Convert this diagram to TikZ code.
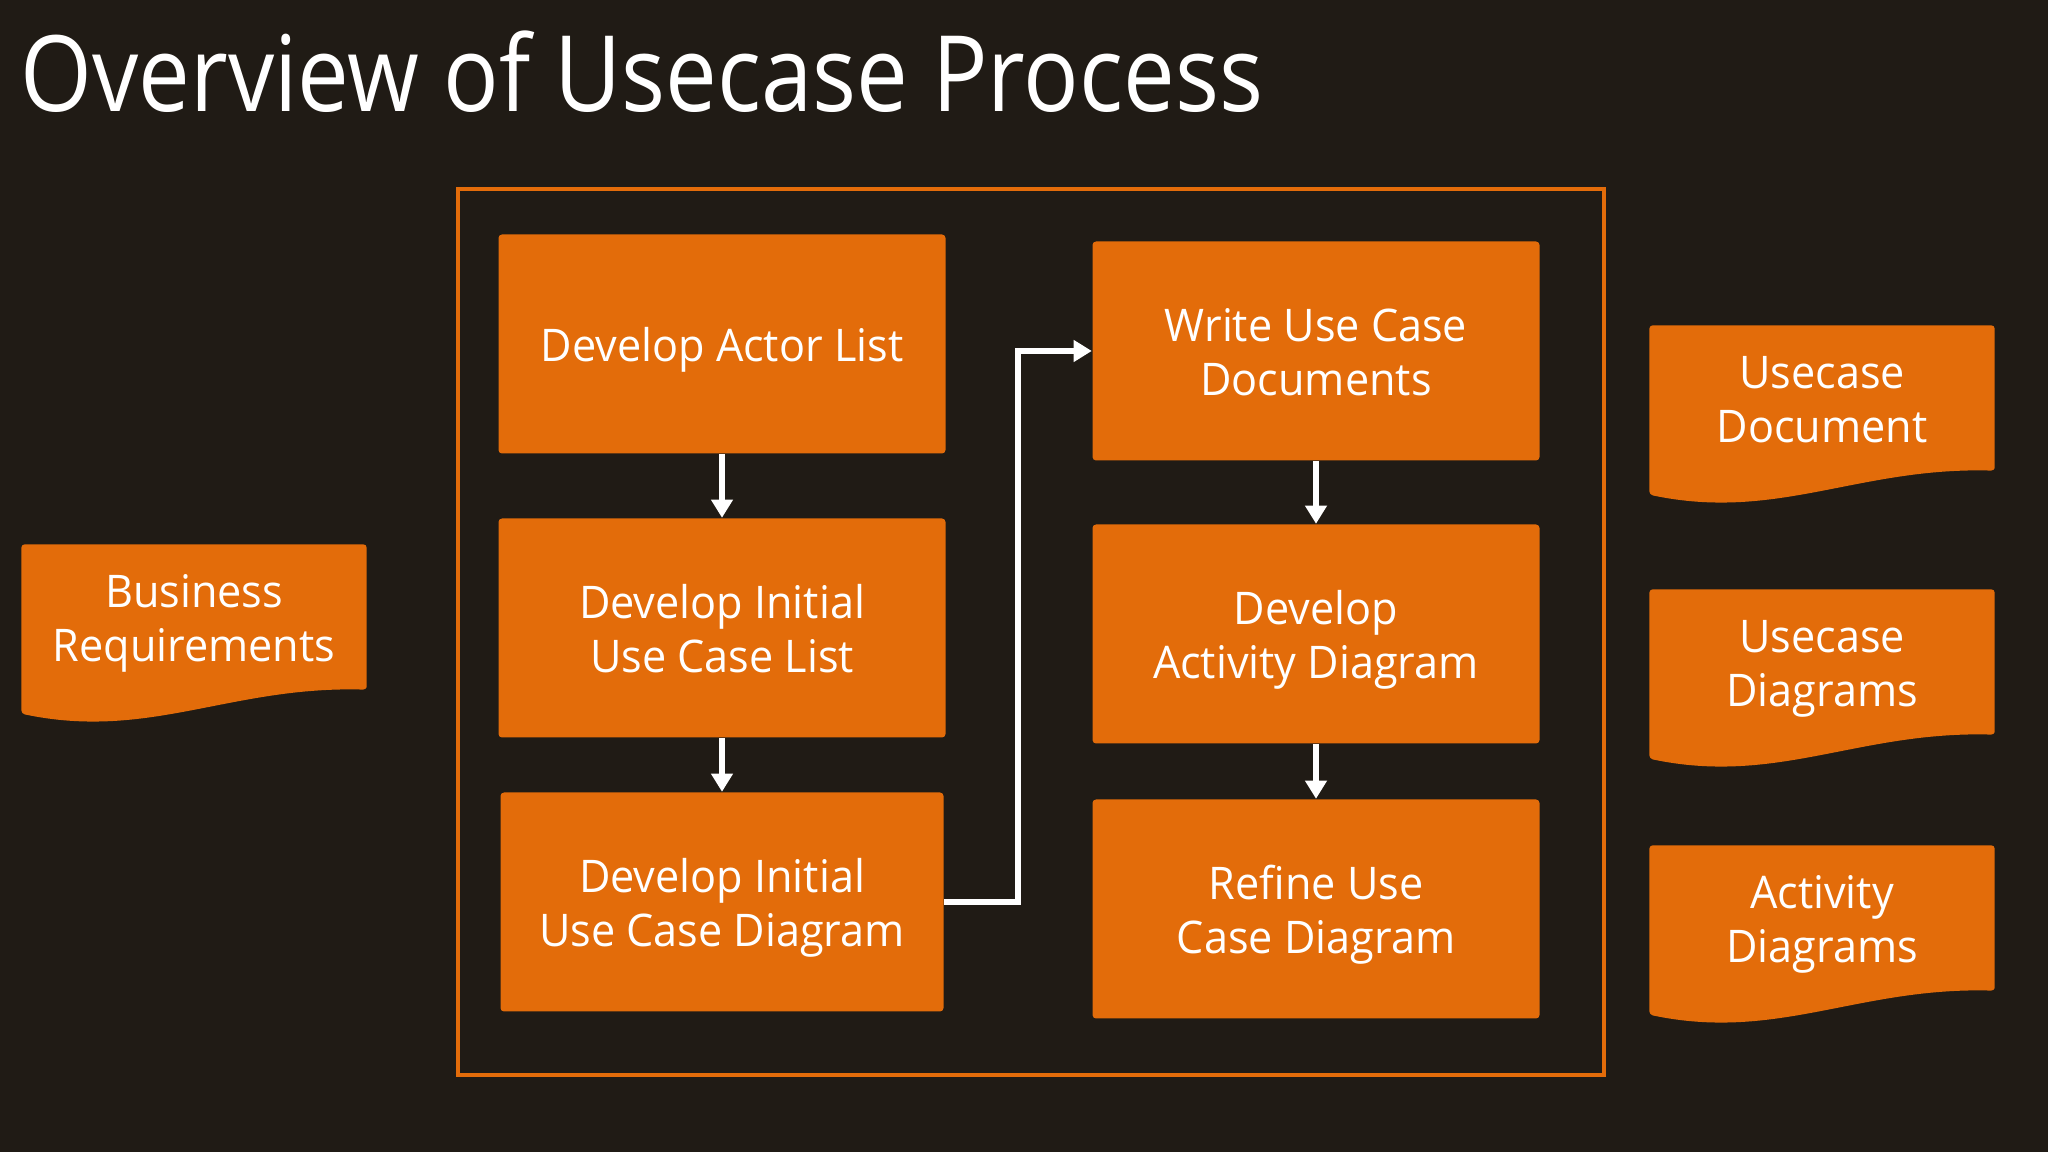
\documentclass[tikz,border=0pt]{standalone}
\usepackage{fontspec}
\setmainfont[FakeStretch=0.96]{Open Sans}
\newfontfamily\titlefont[FakeStretch=0.875]{Open Sans}
\usetikzlibrary{arrows.meta,backgrounds}

\definecolor{slidebg}{RGB}{32,27,21}
\definecolor{accent}{RGB}{227,108,10}
% fixed first-line height and last-line depth, so labels sit alike
\newcommand{\lnup}{\rule{0pt}{13.2pt}}
\newcommand{\lndown}{\rule[-3.2pt]{0pt}{3.2pt}}

\begin{document}
\begin{tikzpicture}[
  x=0.1mm, y=-0.1mm,
  font=\fontsize{12.8}{15.3}\selectfont,
  stepbox/.style={fill=accent, text=white, align=center, rounded corners=1pt, minimum width=44.7mm, minimum height=21.9mm, inner sep=0pt},
  docbox/.style={text=white, align=center, minimum width=34.4mm, minimum height=14.4mm, inner sep=0pt},
  frame/.style={draw=accent, line width=1.4pt, minimum width=114.6mm, minimum height=88.6mm},
  flow/.style={-{Triangle[length=5.2pt,width=6pt]}, draw=white, line width=1.6pt}
]
\useasboundingbox (0,0) rectangle (2048,1152);
\begin{scope}[on background layer]
  \fill[slidebg] (0,0) rectangle (2048,1152);
\end{scope}

\node[anchor=base west, inner sep=0pt, text=white, font=\titlefont\fontsize{30}{36}\selectfont] (title) at (20,112)
  {Overview of Usecase Process};

\node[frame] (process) at (1031,632) {};

% left column
\node[stepbox] (actors) at (722,344) {\lnup Develop Actor List\lndown};
\node[stepbox] (uclist) at (722,628) {\lnup Develop Initial\\Use Case List\lndown};
\node[stepbox, minimum width=44.3mm] (ucdiag) at (722,902) {\lnup Develop Initial\\Use Case Diagram\lndown};

% right column
\node[stepbox] (ucdocs) at (1316,351) {\lnup Write Use Case\\Documents\lndown};
\node[stepbox] (actdiag) at (1316,634) {\lnup Develop\\Activity Diagram\lndown};
\node[stepbox] (refine) at (1316,909) {\lnup Refine Use\\Case Diagram\lndown};

\draw[flow] (actors) -- (uclist);
\draw[flow] (uclist) -- (ucdiag);
\draw[flow] (ucdiag.east) -- ++(74,0) |- (ucdocs.west);
\draw[flow] (ucdocs) -- (actdiag);
\draw[flow] (actdiag) -- (refine);

% input and outputs
\node[docbox] (bizreq) at (194,617) {\lnup Business\\Requirements\lndown};
\node[docbox] (ucdoc) at (1822,398) {\lnup Usecase\\Document\lndown};
\node[docbox] (ucdiags) at (1822,662) {\lnup Usecase\\Diagrams\lndown};
\node[docbox] (actdiags) at (1822,918) {\lnup Activity\\Diagrams\lndown};

\begin{scope}[on background layer]
  \foreach \n in {bizreq,ucdoc,ucdiags,actdiags}
    \fill[accent, rounded corners=1pt] (\n.south east) -- (\n.north east) -- (\n.north west)
      -- ([yshift=-2.4mm]\n.south west)
      .. controls ([xshift=12.8mm,yshift=-5.1mm]\n.south west) and ([xshift=-13.6mm,yshift=0.4mm]\n.south east)
      .. (\n.south east) -- cycle;
\end{scope}
\end{tikzpicture}
\end{document}
